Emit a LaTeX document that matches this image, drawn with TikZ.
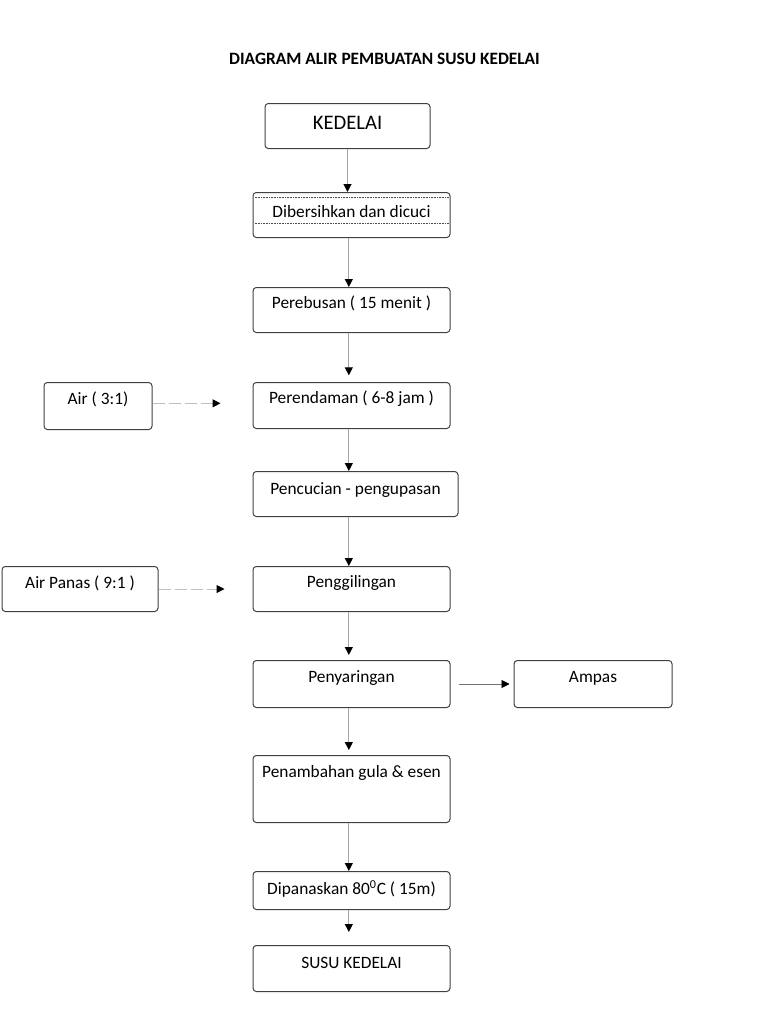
\documentclass[tikz,border=0pt]{standalone}
\usepackage{fontspec}
\setmainfont{Carlito}
\usetikzlibrary{positioning,arrows.meta}

\begin{document}
\begin{tikzpicture}[
      x=0.75pt, y=-0.75pt,
      box/.style={draw=black!75, line width=0.75pt, rounded corners=2.5pt, inner xsep=0pt, inner ysep=0pt,
        minimum width=147.75pt, text height=16.5pt, text depth=18pt, anchor=north,
        font=\fontsize{13}{15}\selectfont},
      line/.style={-{Triangle[length=6pt,width=6pt,color=black]}, draw=black!35, line width=0.75pt},
      side/.style={line, dash pattern=on 9pt off 3pt, draw=black!25}
    ]
    \useasboundingbox (0,0) rectangle (768,1024);
    \node[font=\fontsize{13}{15}\selectfont\bfseries] (title) at (384.5,59) {DIAGRAM ALIR PEMBUATAN SUSU KEDELAI};

    \node[box, minimum width=123.75pt, font=\fontsize{15.5}{18}\selectfont, text height=19.5pt, text depth=14.25pt] (kedelai) at (347.5,103) {KEDELAI};
    \node[box, text height=18.75pt, text depth=15pt] (bersih) at (351.5,192) {Dibersihkan dan dicuci};
    \node[box, text height=15.75pt, text depth=18pt] (rebus) at (351.5,287) {Perebusan ( 15 menit )};
    \node[box, text height=15.75pt, text depth=18.75pt] (rendam) at (351.5,382) {Perendaman ( 6-8 jam )};
    \node[box, minimum width=81pt, text depth=18.75pt] (air) at (98,382) {Air ( 3:1)};
    \node[box, minimum width=153.75pt, text height=17.25pt, text depth=16.5pt] (cuci) at (355.5,471) {Pencucian - pengupasan};
    \node[box, minimum width=117pt, text depth=17.25pt] (airpanas) at (80,566) {Air Panas ( 9:1 )};
    \node[box, text height=15.75pt, text depth=18pt] (giling) at (351.5,566) {Penggilingan};
    \node[box, text depth=18.75pt] (saring) at (351.5,660) {Penyaringan};
    \node[box, minimum width=118.5pt, text depth=18.75pt] (ampas) at (593,660) {Ampas};
    \node[box, text depth=33.75pt] (tambah) at (351.5,755) {Penambahan gula \& esen};
    \node[box, text height=17.25pt, text depth=11.25pt] (panas) at (351.5,871) {Dipanaskan 80\textsuperscript{0}C ( 15m)};
    \node[box, text height=17.25pt, text depth=17.25pt] (susu) at (351.5,945) {SUSU KEDELAI};

    \draw[black!70, line width=0.6pt, dash pattern=on 0.6pt off 0.6pt] ([xshift=1.5pt,yshift=-3.75pt]bersih.north west) -- ([xshift=-1.5pt,yshift=-3.75pt]bersih.north east);
    \draw[black!70, line width=0.6pt, dash pattern=on 0.6pt off 0.6pt] ([xshift=1.5pt,yshift=-23.25pt]bersih.north west) -- ([xshift=-1.5pt,yshift=-23.25pt]bersih.north east);

    \draw[line] (kedelai.south) -- (kedelai.south |- bersih.north);
    \draw[line] ([xshift=-2pt]bersih.south) -- ([xshift=-2pt]rebus.north);
    \draw[line, shorten >=5pt] ([xshift=-2pt]rebus.south) -- ([xshift=-2pt]rendam.north);
    \draw[line] ([xshift=-2pt]rendam.south) -- ([xshift=-2pt]rendam.south |- cuci.north);
    \draw[line] ([xshift=-2pt]rendam.south |- cuci.south) -- ([xshift=-2pt]giling.north);
    \draw[line, shorten >=3.75pt] ([xshift=-2pt]giling.south) -- ([xshift=-2pt]saring.north);
    \draw[line, shorten >=3.75pt] ([xshift=-2pt]saring.south) -- ([xshift=-2pt]tambah.north);
    \draw[line] ([xshift=-2pt]tambah.south) -- ([xshift=-2pt]panas.north);
    \draw[line, shorten >=9.75pt] ([xshift=-2pt]panas.south) -- ([xshift=-2pt]susu.north);

    \draw[side, shorten >=24pt] ([yshift=2pt]air.east) -- ([yshift=2pt]air.east -| rendam.west);
    \draw[side, shorten >=21pt] (airpanas.east) -- (airpanas.east -| giling.west);
    \draw[line, draw=black!55, line width=0.5pt, shorten <=6pt, shorten >=3pt] (saring.east) -- (ampas.west);
  \end{tikzpicture}
\end{document}
